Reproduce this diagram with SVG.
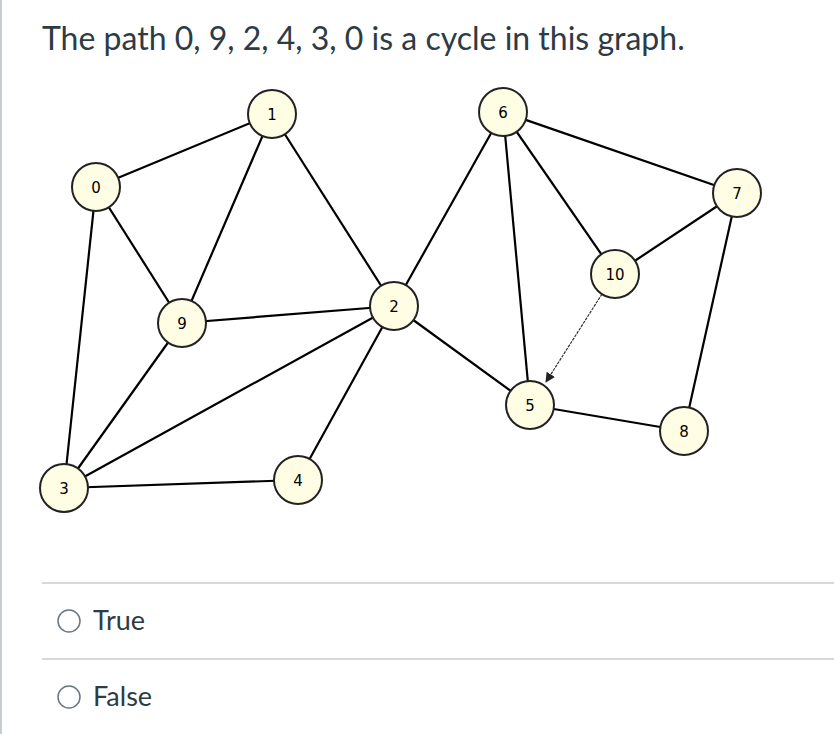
<svg xmlns="http://www.w3.org/2000/svg" width="834" height="734" viewBox="0 0 834 734">
<style>
.title{font-family:Lato,"Open Sans",sans-serif;font-size:32px;fill:#2d3b45}
.opt{font-family:Lato,"Open Sans",sans-serif;font-size:27px;fill:#2d3b45}
.edge{stroke:#000;stroke-width:2.2;fill:none}
.node circle{fill:#fffde3;stroke:#222;stroke-width:2}
.node text{font-family:"DejaVu Sans","Liberation Sans",sans-serif;font-size:15px;fill:#000;text-anchor:middle}
.sep{stroke:#c7cdd1;stroke-width:1.5}
.radio{fill:#fff;stroke:#6b7780;stroke-width:1.5}
</style>
<defs>
<marker id="ah" markerWidth="10" markerHeight="10" refX="9" refY="5" orient="auto" markerUnits="userSpaceOnUse">
<path d="M0,0 L10,5 L0,10 Z" fill="#222"/>
</marker>
</defs>
<rect x="0" y="0" width="834" height="734" fill="#fff"/>
<line x1="1" y1="0" x2="1" y2="734" stroke="#c7cdd1" stroke-width="2"/>
<text class="title" x="42" y="50">The path 0, 9, 2, 4, 3, 0 is a cycle in this graph.</text>
<g id="edges">
<line class="edge" x1="96" y1="187" x2="272" y2="114"/>
<line class="edge" x1="96" y1="187" x2="182" y2="323"/>
<line class="edge" x1="96" y1="187" x2="64" y2="488"/>
<line class="edge" x1="272" y1="114" x2="182" y2="323"/>
<line class="edge" x1="272" y1="114" x2="394" y2="306"/>
<line class="edge" x1="182" y1="323" x2="394" y2="306"/>
<line class="edge" x1="182" y1="323" x2="64" y2="488"/>
<line class="edge" x1="64" y1="488" x2="394" y2="306"/>
<line class="edge" x1="64" y1="488" x2="298" y2="480"/>
<line class="edge" x1="298" y1="480" x2="394" y2="306"/>
<line class="edge" x1="394" y1="306" x2="503" y2="112"/>
<line class="edge" x1="394" y1="306" x2="530" y2="405"/>
<line class="edge" x1="503" y1="112" x2="530" y2="405"/>
<line class="edge" x1="503" y1="112" x2="615" y2="274"/>
<line class="edge" x1="503" y1="112" x2="737" y2="193"/>
<line class="edge" x1="737" y1="193" x2="615" y2="274"/>
<line class="edge" x1="737" y1="193" x2="684" y2="431"/>
<line class="edge" x1="530" y1="405" x2="684" y2="431"/>
<line x1="602" y1="294" x2="546" y2="382" stroke="#333" stroke-width="1.2" stroke-dasharray="3,1" marker-end="url(#ah)"/>
</g>
<g id="node0" class="node"><circle cx="96" cy="187" r="24"/><text x="96" y="193">0</text></g>
<g id="node1" class="node"><circle cx="272" cy="114" r="24"/><text x="272" y="120">1</text></g>
<g id="node6" class="node"><circle cx="503" cy="112" r="24"/><text x="503" y="118">6</text></g>
<g id="node7" class="node"><circle cx="737" cy="193" r="24"/><text x="737" y="199">7</text></g>
<g id="node10" class="node"><circle cx="615" cy="274" r="24"/><text x="615" y="280">10</text></g>
<g id="node9" class="node"><circle cx="182" cy="323" r="24"/><text x="182" y="329">9</text></g>
<g id="node2" class="node"><circle cx="394" cy="306" r="24"/><text x="394" y="312">2</text></g>
<g id="node5" class="node"><circle cx="530" cy="405" r="24"/><text x="530" y="411">5</text></g>
<g id="node8" class="node"><circle cx="684" cy="431" r="24"/><text x="684" y="437">8</text></g>
<g id="node3" class="node"><circle cx="64" cy="488" r="24"/><text x="64" y="494">3</text></g>
<g id="node4" class="node"><circle cx="298" cy="480" r="24"/><text x="298" y="486">4</text></g>
<line class="sep" x1="42" y1="583" x2="834" y2="583"/>
<circle class="radio" cx="69" cy="621" r="11"/>
<text class="opt" x="93" y="630">True</text>
<line class="sep" x1="42" y1="659" x2="834" y2="659"/>
<circle class="radio" cx="69" cy="697" r="11"/>
<text class="opt" x="93" y="706">False</text>
</svg>
